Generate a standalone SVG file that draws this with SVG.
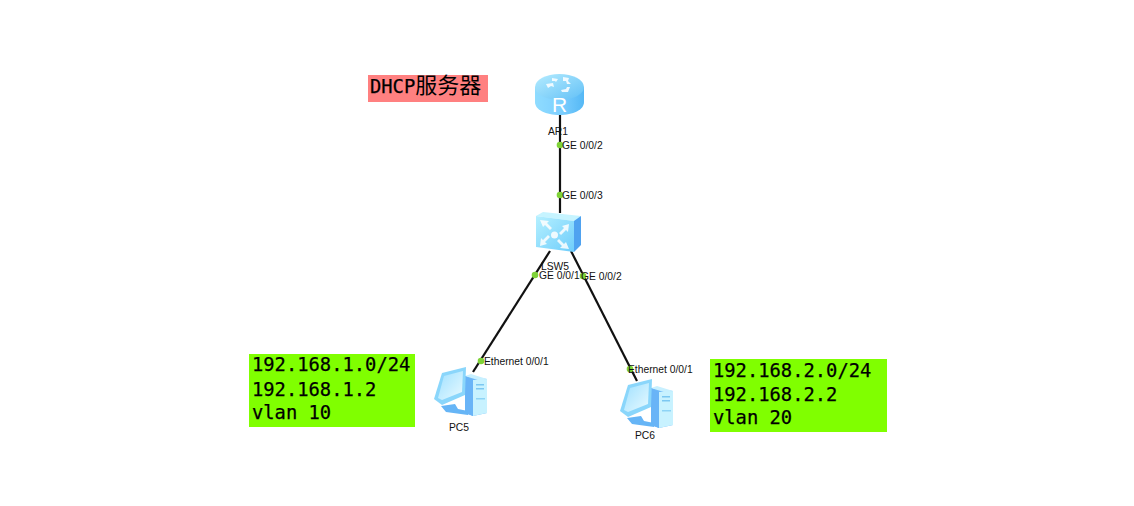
<svg xmlns="http://www.w3.org/2000/svg" width="1134" height="506" viewBox="0 0 1134 506">
<style>
.lbl{font-family:"Liberation Sans",Arial,sans-serif;font-size:10.300px;fill:#111}
.note{font-family:"DejaVu Sans Mono","Liberation Mono","Noto Sans CJK SC",monospace;font-size:18.800px;fill:#000;stroke:#000;stroke-width:.25}
.link{stroke:#111;stroke-width:2.200;fill:none}
.port{fill:#7fd238}
.w{fill:#fff;opacity:.85}
</style>
<defs>
<linearGradient id="rt" x1="0" y1="0" x2="1" y2="0"><stop offset="0" stop-color="#8fdcff"/><stop offset=".5" stop-color="#7fd0ff"/><stop offset="1" stop-color="#55b8f5"/></linearGradient>
<linearGradient id="rtop" x1="0" y1="0" x2="1" y2="1"><stop offset="0" stop-color="#b5ecff"/><stop offset="1" stop-color="#62c0f6"/></linearGradient>
<linearGradient id="sw" x1="0" y1="0" x2="1" y2="1"><stop offset="0" stop-color="#b5f0ff"/><stop offset="1" stop-color="#6fcdfb"/></linearGradient>
<linearGradient id="scr" x1="0" y1="0" x2="1" y2="1"><stop offset="0" stop-color="#9fe0ff"/><stop offset="1" stop-color="#e8faff"/></linearGradient>
<g id="pc">
<path d="M31 9 L53 12 L53 46 L39 49 L31 46Z" fill="#6fb8f8"/>
<path d="M31 9 L37 7 L53 12 L47 14Z" fill="#c8f0ff"/>
<path d="M39 13 L53 12 L53 46 L39 49Z" fill="#c8f2ff"/>
<path d="M31 9 L39 13 L39 49 L31 46Z" fill="#69b4f7"/>
<rect x="42" y="17" width="8" height="1.500" fill="#7cc8f2"/><rect x="42" y="21" width="8" height="1.500" fill="#7cc8f2"/><rect x="42" y="31" width="9" height="1.500" fill="#8ed4f6"/>
<path d="M7 39 L21 37 L24 42 L34 44 L34 48 L12 45Z" fill="#66b5f6"/>
<path d="M0 32 L8 6 L32 0 L31 28 L8 38Z" fill="#8ad6fb"/>
<path d="M4 31 L10 9 L29 4 L28 25 L8 33Z" fill="url(#scr)"/>
</g>
</defs>
<g id="connectors">
<line class="link" x1="560" y1="115" x2="560" y2="213"/>
<line class="link" x1="550" y1="251" x2="473" y2="372"/>
<line class="link" x1="571" y1="251" x2="637" y2="381"/>
</g>
<g id="AR1">
<path d="M535 87 V102 C535 110 546 115 559.500 115 C573 115 584 110 584 102 V87Z" fill="url(#rt)"/>
<ellipse cx="559.500" cy="87" rx="24.500" ry="13" fill="url(#rtop)"/>
<path class="w" d="M546 84l7-1 1 4-3-1-3 2zM552 78l6 1-2 3-1-1-3 0zM563 77l6 1-1 3 3 3-4 0-1-3-3 0zM561 90l5-1 1-2 3 0-2 5-6 0z"/>
<text x="559.500" y="112" text-anchor="middle" style="font-family:'Liberation Sans',sans-serif;font-size:21px;fill:#fff">R</text>
<text class="lbl" x="548" y="135">AR1</text>
</g>
<g id="LSW5">
<path d="M574 217 L581 216 L581 245 L574 252Z" fill="#4fa2f0"/>
<path d="M543 212 L581 216 L574 221 L536 216Z" fill="#c6f4ff"/>
<path d="M536 216 L574 221 L574 252 L536 247Z" fill="url(#sw)"/>
<g class="w">
<path d="M540 220l9 1-2 2 5 5-2 2-5-5-2 2zM569 224l-1 8-2-2-5 5-2-2 5-5-2-2zM540 246l1-8 2 2 5-5 2 2-5 5 2 2zM569 249l-9-1 2-2-5-5 2-2 5 5 2-2z"/>
<circle cx="554.500" cy="235" r="3.500"/>
</g>
<text class="lbl" x="541" y="270">LSW5</text>
</g>
<g id="PC5">
<use href="#pc" x="434" y="367"/>
<text class="lbl" x="449" y="431">PC5</text>
</g>
<g id="PC6">
<use href="#pc" x="620" y="379"/>
<text class="lbl" x="635" y="439">PC6</text>
</g>
<g id="ports">
<circle class="port" cx="560" cy="145" r="3.300"/><text class="lbl" x="562" y="149">GE 0/0/2</text>
<circle class="port" cx="560" cy="195" r="3.300"/><text class="lbl" x="562" y="199">GE 0/0/3</text>
<circle class="port" cx="535" cy="275" r="3.300"/><text class="lbl" x="539" y="279">GE 0/0/1</text>
<circle class="port" cx="583" cy="276" r="3.300"/><text class="lbl" x="581" y="280">GE 0/0/2</text>
<circle class="port" cx="481" cy="361" r="3.300"/><text class="lbl" x="484" y="365">Ethernet 0/0/1</text>
<circle class="port" cx="630" cy="369" r="3.300"/><text class="lbl" x="628" y="373">Ethernet 0/0/1</text>
</g>
<g id="note-dhcp">
<rect x="368" y="75" width="120" height="27" fill="#ff8080"/>
<text class="note" x="370" y="93">DHCP<tspan style="font-size:22px;font-family:'Noto Sans CJK SC',sans-serif;stroke-width:0">服务器</tspan></text>
</g>
<g id="note-vlan10">
<rect x="249" y="354" width="166" height="73" fill="#80ff00"/>
<text class="note" x="252" y="371">192.168.1.0/24</text>
<text class="note" x="252" y="396">192.168.1.2</text>
<text class="note" x="252" y="419">vlan 10</text>
</g>
<g id="note-vlan20">
<rect x="710" y="359" width="177" height="73" fill="#80ff00"/>
<text class="note" x="713" y="377">192.168.2.0/24</text>
<text class="note" x="713" y="401">192.168.2.2</text>
<text class="note" x="713" y="424">vlan 20</text>
</g>
</svg>
